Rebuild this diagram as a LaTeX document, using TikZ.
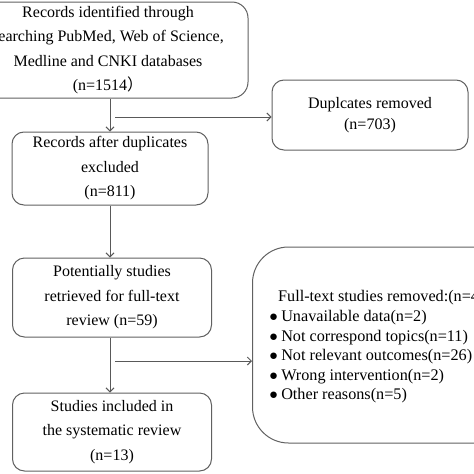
\documentclass[tikz,border=0pt]{standalone}
\usepackage{fontspec}
\setmainfont{Liberation Serif}
\newfontfamily\cjk{Noto Sans CJK SC}
\usetikzlibrary{arrows.meta}
\definecolor{boxgray}{gray}{0.38}
\definecolor{linegray}{gray}{0.35}
\newcommand{\blt}{{\fontsize{15}{15}\selectfont ●}\hspace{3pt}}
\begin{document}
\begin{tikzpicture}[x=1pt,y=-1pt,
  box/.style={draw=boxgray, line width=1pt, rounded corners=12pt, align=center, inner sep=0pt,
    font=\fontsize{16}{24.5}\selectfont},
  conn/.style={draw=linegray, line width=1pt},
  arr/.style={conn, -{Straight Barb[length=4pt,width=8pt]}}]
\useasboundingbox (0,0) rectangle (474,474);
\node[box, minimum width=280pt, minimum height=96pt, rounded corners=16pt] (src) at (108,50)
  {Records identified through\\searching PubMed, Web of Science,\\Medline and CNKI databases\\(n=1514{\cjk ）}};
\node[box, minimum width=196pt, minimum height=70pt, font=\fontsize{16}{20.5}\selectfont] (dup) at (370,115)
  {Duplcates removed\\(n=703)};
\node[box, minimum width=196pt, minimum height=73pt] (rec) at (110,168.5)
  {Records after duplicates\\excluded\\(n=811)};
\node[box, minimum width=199pt, minimum height=79pt] (pot) at (112,297.5)
  {Potentially studies\\retrieved for full-text\\review (n=59)};
\node[box, minimum width=199pt, minimum height=78pt] (stud) at (112,432)
  {Studies included in\\the systematic review\\(n=13)};
\node[draw=boxgray, line width=1pt, rounded corners=36pt, minimum width=280pt, minimum height=196pt,
  anchor=west, inner sep=0pt] (rbox) at (252,345) {};
\node[anchor=west, align=left, inner sep=0pt, font=\fontsize{16.2}{19.6}\selectfont] (rtext) at (269,347)
  {\hspace*{9pt}Full-text studies removed:(n=46)\\
   \blt Unavailable data(n=2)\\
   \blt Not correspond topics(n=11)\\
   \blt Not relevant outcomes(n=26)\\
   \blt Wrong intervention(n=2)\\
   \blt Other reasons(n=5)};
\coordinate (b1) at (115,117);
\coordinate (b2) at (115,361);
\draw[arr] (src.south -| rec.south) -- (rec.north);
\draw[arr] (b1) -- (b1 -| dup.west);
\draw[arr] (rec.south) -- (rec.south |- pot.north);
\draw[arr] (pot.south -| rec.south) -- (stud.north -| rec.south);
\draw[arr] (b2) -- (b2 -| rbox.west);
\end{tikzpicture}
\end{document}
